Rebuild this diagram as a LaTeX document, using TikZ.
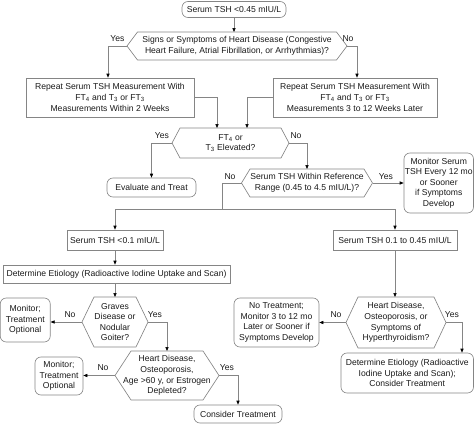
\documentclass[tikz,border=0pt]{standalone}
\usepackage{fontspec}
\setmainfont{Liberation Sans}
\usetikzlibrary{arrows.meta,calc}
\definecolor{linegray}{HTML}{858585}
\definecolor{ink}{HTML}{1A1A1A}
% hexagon decision outline: name, cx, cy, half flat width, half height, tip depth
\newcommand{\hexshape}[6]{%
  \draw[shape line] (#2-#4,#3-#5) -- (#2+#4,#3-#5) -- (#2+#4+#6,#3) -- (#2+#4,#3+#5) -- (#2-#4,#3+#5) -- (#2-#4-#6,#3) -- cycle;
  \coordinate (#1L) at (#2-#4-#6,#3);
  \coordinate (#1R) at (#2+#4+#6,#3);
  \coordinate (#1T) at (#2,#3-#5);
  \coordinate (#1B) at (#2,#3+#5);
}
\begin{document}
\begin{tikzpicture}[x=1pt,y=-1pt,
  font=\fontsize{8.6}{10.6}\selectfont, text=ink,
  shape line/.style={draw=linegray, line width=0.65pt},
  sq/.style={shape line, rectangle, inner sep=0pt, align=center},
  rnd/.style={sq, rounded corners=6pt},
  txt/.style={align=center, inner sep=0pt},
  lbl/.style={inner sep=0pt},
  conn/.style={draw=linegray, line width=0.65pt},
  arr/.style={conn, -{Triangle[length=4pt,width=3.2pt,color=black]}}]
\useasboundingbox (0,0) rectangle (474,424);

% ---- top part
\node[rnd, minimum width=104, minimum height=16] (top) at (234,9.5) {Serum TSH <0.45 mIU/L};
\hexshape{hA}{237}{46}{99.5}{14}{10.5}
\node[txt] (hA) at (237,46) {Signs or Symptoms of Heart Disease (Congestive\\Heart Failure, Atrial Fibrillation, or Arrhythmias)?};
\node[sq, minimum width=168, minimum height=39] (bL) at (110,97.5) {Repeat Serum TSH Measurement With\\FT\textsubscript{4} and T\textsubscript{3} or FT\textsubscript{3}\\Measurements Within 2 Weeks};
\node[sq, minimum width=164, minimum height=39] (bR) at (355,97.5) {Repeat Serum TSH Measurement With\\FT\textsubscript{4} and T\textsubscript{3} or FT\textsubscript{3}\\Measurements 3 to 12 Weeks Later};
\hexshape{hB}{230.5}{143}{50.5}{15}{8}
\node[txt] (hB) at (230.5,143) {FT\textsubscript{4} or\\T\textsubscript{3} Elevated?};
\node[rnd, minimum width=89, minimum height=19] (eval) at (151.5,187.5) {Evaluate and Treat};
\hexshape{hC}{307}{183}{57}{14}{8.5}
\node[txt] (hC) at (307,183) {Serum TSH Within Reference\\Range (0.45 to 4.5 mIU/L)?};
\node[rnd, minimum width=69.5, minimum height=60] (mon) at (438.75,183) {Monitor Serum\\TSH Every 12 mo\\or Sooner\\if Symptoms\\Develop};
\node[sq, minimum width=96, minimum height=20] (s01) at (115,240) {Serum TSH <0.1 mIU/L};
\node[sq, minimum width=124, minimum height=20] (s045) at (395,240) {Serum TSH 0.1 to 0.45 mIU/L};

% ---- left lower part
\node[sq, minimum width=227, minimum height=18] (det1) at (116.5,274) {Determine Etiology (Radioactive Iodine Uptake and Scan)};
\hexshape{hG}{115}{322}{21}{25}{12}
\node[txt] (hG) at (115,322) {Graves\\Disease or\\Nodular\\Goiter?};
\node[rnd, minimum width=50, minimum height=44] (m1) at (25.25,320) {Monitor;\\Treatment\\Optional};
\hexshape{hH}{167}{375.5}{36}{24.5}{16}
\node[txt] (hH) at (167,375.5) {Heart Disease,\\Osteoporosis,\\Age >60 y, or Estrogen\\Depleted?};
\node[rnd, minimum width=48, minimum height=38] (m2) at (59,376) {Monitor;\\Treatment\\Optional};
\node[rnd, minimum width=88, minimum height=18] (cons) at (238,414) {Consider Treatment};

% ---- right lower part
\hexshape{hJ}{396}{322.5}{38}{25.5}{12}
\node[txt] (hJ) at (396,322.5) {Heart Disease,\\Osteoporosis, or\\Symptoms of\\Hyperthyroidism?};
\node[rnd, minimum width=85, minimum height=49] (noT) at (276.5,322.5) {No Treatment;\\Monitor 3 to 12 mo\\Later or Sooner if\\Symptoms Develop};
\node[rnd, minimum width=132.5, minimum height=40] (det2) at (407.25,373) {Determine Etiology (Radioactive\\Iodine Uptake and Scan);\\Consider Treatment};

% ---- bend points
\coordinate (k1) at (108,46);
\coordinate (k2) at (357,46);
\coordinate (k3) at (217,0);
\coordinate (k4) at (247,0);
\coordinate (k5) at (222,209);
\coordinate (k6) at (462,0);

% ---- connectors
\draw[arr] (top.south) -- (top.south |- hAT);
\draw[arr] (hAL) -- (k1) -- (k1 |- bL.north);
\draw[arr] (hAR) -- (k2) -- (k2 |- bR.north);
\draw[arr] (bL.east) -| (k3 |- hBT);
\draw[arr] (bR.west) -| (k4 |- hBT);
\draw[arr] (hBL) -| (eval.north);
\draw[arr] (hBR) -| (hCT);
\draw[arr] (hCR) -- (hCR -| mon.west);
\draw[conn] (hCL) -| (k5);
\draw[arr] (k5) -| (s01.north);
\draw[arr] (k5) -| (s045.north);
\draw[arr] (s01.south) -- (s01.south |- det1.north);
\draw[arr] (hGT |- det1.south) -- (hGT);
\draw[arr] (hGL) -- (hGL -| m1.east);
\draw[arr] (hGR) -| (hHT);
\draw[arr] (hHL) -- (hHL -| m2.east);
\draw[arr] (hHR) -| (cons.north);
\draw[arr] (s045.south) -- (s045.south |- hJT);
\draw[arr] (hJL) -- (hJL -| noT.east);
\draw[arr] (hJR) -| (k6 |- det2.north);

% ---- labels
\node[lbl] (yA) at (117.5,39) {Yes};
\node[lbl] (nA) at (348,39) {No};
\node[lbl] (yB) at (162,136) {Yes};
\node[lbl] (nB) at (296,136) {No};
\node[lbl] (nC) at (230,177) {No};
\node[lbl] (yC) at (386,177) {Yes};
\node[lbl] (nG) at (70,315) {No};
\node[lbl] (yG) at (155,315) {Yes};
\node[lbl] (nH) at (103,368) {No};
\node[lbl] (yH) at (227,368) {Yes};
\node[lbl] (nJ) at (336,315) {No};
\node[lbl] (yJ) at (452,315) {Yes};
\end{tikzpicture}
\end{document}
